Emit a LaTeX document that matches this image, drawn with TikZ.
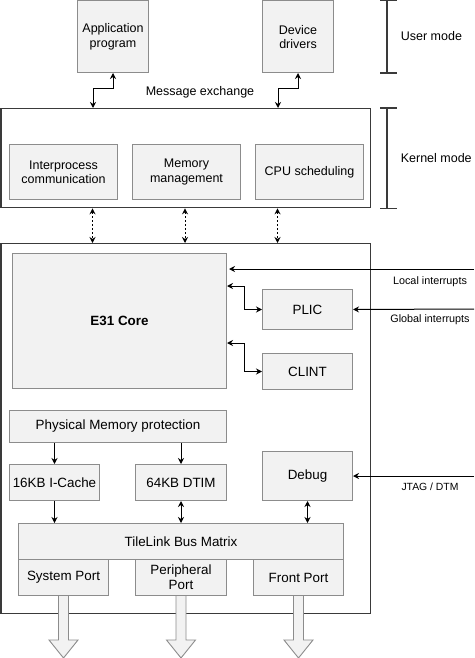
\documentclass[tikz,border=0pt]{standalone}
\usepackage{fontspec}
\setmainfont{Liberation Sans}
\usepackage{tikz}
\usetikzlibrary{calc,arrows.meta,positioning}
\definecolor{box-fill}{HTML}{F2F2F2}
\definecolor{box-line}{HTML}{8C8C8C}
\definecolor{frame-line}{HTML}{3A3A3A}

\begin{document}
\begin{tikzpicture}[x=1pt, y=-1pt, line width=1pt, >={Stealth[length=6pt,width=6pt]},
    font=\fontsize{12.5}{14.5}\selectfont,
    blk/.style={draw=box-line, fill=box-fill, inner sep=2pt, align=center, anchor=north west,
        font=\fontsize{13.4}{15.2}\selectfont},
    kblk/.style={blk, font=\fontsize{12.5}{14.3}\selectfont},
    frm/.style={draw=frame-line, line width=1.3pt, anchor=north west, inner sep=0pt},
    brk/.style={draw=frame-line, line width=1.2pt},
    side/.style={font=\fontsize{10.8}{12}\selectfont},
    fat/.style={draw=box-line, fill=box-fill, line width=0.9pt}]

    \useasboundingbox (0,0) rectangle (474,658);

    \node[kblk, minimum width=71, minimum height=71.5] (app) at (77,0.5) {Application\\program};
    \node[kblk, minimum width=71, minimum height=71.5] (drv) at (262,0.5) {Device\\drivers};
    \node (msg) at (200,92) {Message exchange};

    \node[frm, minimum width=369.5, minimum height=99] (kern) at (0.5,108) {};
    \node[kblk, minimum width=108, minimum height=55] (ipc) at (9,144) {Interprocess\\communication};
    \node[kblk, minimum width=108, minimum height=55, right=14pt of ipc] (mem) {Memory\\management};
    \node[kblk, minimum width=108, minimum height=55, right=14pt of mem] (cpu) {CPU scheduling};

    \node[frm, minimum width=369.5, minimum height=370] (soc) at (0.5,243) {};
    \node[blk, minimum width=214, minimum height=135, font=\fontsize{13.4}{15}\selectfont\bfseries] (core) at (12,253) {E31 Core};
    \node[blk, minimum width=90, minimum height=40] (plic) at (262,289) {PLIC};
    \node[blk, minimum width=90, minimum height=36, below=23pt of plic] (clint) {CLINT};
    \node[blk, minimum width=217, minimum height=32] (pmp) at (9,410) {Physical Memory protection};
    \node[blk, minimum width=90, minimum height=36] (icache) at (9,464) {16KB I-Cache};
    \node[blk, minimum width=91, minimum height=36] (dtim) at (135,464) {64KB DTIM};
    \node[blk, minimum width=90, minimum height=49] (debug) at (262,451) {Debug};
    \node[blk, minimum width=325, minimum height=36] (bus) at (18,523) {TileLink Bus Matrix};
    \node[blk, minimum width=90, minimum height=36] (sysport) at (18,559) {System Port};
    \node[blk, minimum width=91, minimum height=36, font=\fontsize{13.4}{15}\selectfont] (perport) at (135,559) {Peripheral\\Port};
    \node[blk, minimum width=90, minimum height=36] (frontport) at (253,559) {Front Port};

    \node[anchor=west] (umode) at (397,36) {User mode};
    \node[anchor=west] (kmode) at (397,158) {Kernel mode};
    \node[side] (locl) at (430,282) {Local interrupts};
    \node[side] (glob) at (430,320) {Global interrupts};
    \node[side, font=\fontsize{10.4}{12}\selectfont] (jtag) at (430,487) {JTAG / DTM};

    \coordinate (locin) at (474,269);
    \coordinate (globin) at (474,309);
    \coordinate (jtagin) at (474,476);

    \foreach \a/\b in {app.north/app.south, kern.north/kern.south} {
        \draw[brk] (\a -| 387,0) -- (\b -| 387,0);
        \draw[brk] (\a -| 380,0) -- (\a -| 397,0);
        \draw[brk] (\b -| 380,0) -- (\b -| 397,0);
    }

    \draw[<->] (app.south) -- ++(0,16) -| ([xshift=-20pt]app.south |- kern.north);
    \draw[<->] (drv.south) -- ++(0,16) -| ([xshift=-20pt]drv.south |- kern.north);
    \foreach \x in {92.5,185,277.5}
        \draw[<->, dash pattern=on 2pt off 2pt] (kern.south -| \x,0) -- (soc.north -| \x,0);

    \draw[->] (locin) -- ([xshift=2pt]locin -| core.east);
    \draw[->] (globin) -- (plic.east);
    \draw[->] (jtagin) -- (debug.east);
    \draw[<->] ([yshift=3pt]plic.north -| core.east) -| ($(plic.west)+(-18,0)$) -- (plic.west);
    \draw[<->] ([yshift=10pt]clint.north -| core.east) -| ($(clint.west)+(-18,0)$) -- (clint.west);

    \draw[->] (pmp.south -| icache.north) -- (icache.north);
    \draw[->] (pmp.south -| dtim.north) -- (dtim.north);
    \draw[->] (icache.south) -- (icache.south |- bus.north);
    \draw[<->] (dtim.south) -- (dtim.south |- bus.north);
    \draw[<->] (debug.south) -- (debug.south |- bus.north);

    \foreach \p in {sysport,perport,frontport}
        \draw[fat] ([xshift=-5pt]\p.south) -- ++(0,44) -- ++(-9.5,0) -- ++(14.5,18)
            -- ++(14.5,-18) -- ++(-9.5,0) -- ([xshift=5pt]\p.south);
\end{tikzpicture}
\end{document}
